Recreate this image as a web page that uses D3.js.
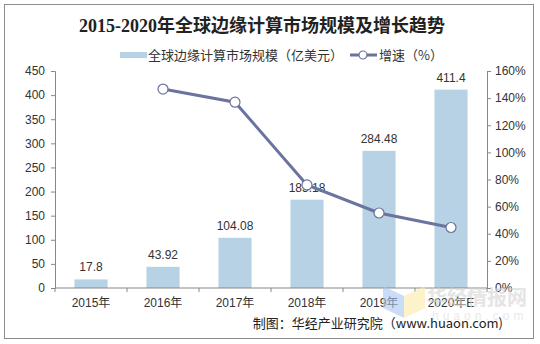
<!DOCTYPE html>
<html>
<head>
<meta charset="utf-8">
<script src="https://cdn.jsdelivr.net/npm/d3@7"></script>
<style>
  body { margin: 0; background: #fff; }
  svg text { font-family: "Liberation Sans", Arial, "Noto Sans CJK SC", sans-serif; }
</style>
</head>
<body>
<div id="chart"></div>
<script>
// data
const years = ['2015年', '2016年', '2017年', '2018年', '2019年', '2020年E']
const marketSize = [17.8, 43.92, 104.08, 183.18, 284.48, 411.4]
const growth = [null, 146.7, 137.0, 76.0, 55.3, 44.6]
const leftTicks = [0, 50, 100, 150, 200, 250, 300, 350, 400, 450]
const rightTicks = [0, 20, 40, 60, 80, 100, 120, 140, 160]

const width = 540, height = 344
const margin = { top: 71, right: 53, bottom: 56, left: 55 }
const innerW = width - margin.left - margin.right
const innerH = height - margin.top - margin.bottom

const barColor = '#b7d2e4'
const lineColor = '#6b739f'
const textColor = '#333'

const svg = d3.select('#chart').append('svg')
  .attr('width', width)
  .attr('height', height)

// outer frame
svg.append('rect')
  .attr('x', 4.5).attr('y', 4.5)
  .attr('width', 529).attr('height', 334)
  .attr('fill', 'none')
  .attr('stroke', '#8c8c8c')

// title
svg.append('text')
  .attr('x', 262).attr('y', 32)
  .attr('text-anchor', 'middle')
  .attr('font-size', 18)
  .attr('font-weight', 'bold')
  .style('font-family', '"Liberation Serif", "Noto Sans CJK SC", serif')
  .attr('fill', '#222')
  .text('2015-2020年全球边缘计算市场规模及增长趋势')

// legend
const legend = svg.append('g').attr('transform', 'translate(0, 55)')
legend.append('rect')
  .attr('x', 120).attr('y', -3).attr('width', 27).attr('height', 6)
  .attr('fill', barColor)
legend.append('text')
  .attr('x', 148).attr('y', 0).attr('dy', '0.35em')
  .attr('font-size', 13).attr('fill', textColor)
  .style('font-family', '"Noto Sans CJK SC", sans-serif')
  .text('全球边缘计算市场规模（亿美元）')
legend.append('line')
  .attr('x1', 350).attr('x2', 377).attr('y1', 0).attr('y2', 0)
  .attr('stroke', lineColor).attr('stroke-width', 3)
legend.append('circle')
  .attr('cx', 363).attr('cy', 0).attr('r', 4)
  .attr('fill', '#fff').attr('stroke', lineColor).attr('stroke-width', 1.2)
legend.append('text')
  .attr('x', 379).attr('y', 0).attr('dy', '0.35em')
  .attr('font-size', 13).attr('fill', textColor)
  .style('font-family', '"Noto Sans CJK SC", sans-serif')
  .text('增速（%）')

const g = svg.append('g')
  .attr('transform', `translate(${margin.left}, ${margin.top})`)

// scales
const x = d3.scaleBand().domain(years).range([0, innerW]).paddingInner(0.54).paddingOuter(0.27)
const xEdge = d3.scaleLinear().domain([0, years.length]).range([0, innerW])
const yLeft = d3.scaleLinear().domain([0, 450]).range([innerH, 0])
const yRight = d3.scaleLinear().domain([0, 160]).range([innerH, 0])

// bars
g.selectAll('.bar')
  .data(marketSize).enter()
  .append('rect')
  .attr('class', 'bar')
  .attr('x', (d, i) => x(years[i]))
  .attr('y', d => yLeft(d))
  .attr('width', x.bandwidth())
  .attr('height', d => innerH - yLeft(d))
  .attr('fill', barColor)

// bar labels
g.selectAll('.bar-label')
  .data(marketSize).enter()
  .append('text')
  .attr('class', 'bar-label')
  .attr('x', (d, i) => x(years[i]) + x.bandwidth() / 2)
  .attr('y', d => yLeft(d) - 8)
  .attr('text-anchor', 'middle')
  .attr('font-size', 12)
  .attr('fill', textColor)
  .text(d => d)

// watermark, faint, sits under axis labels
const wm = svg.append('g').attr('opacity', 0.6)
wm.append('path')
  .attr('d', 'M383,286 L404,296 L404,318 L383,308 Z')
  .attr('fill', '#a9c6f2')
wm.append('path')
  .attr('d', 'M404,296 L425,286 L425,308 L404,318 Z')
  .attr('fill', '#fdeaa6')
wm.append('text')
  .attr('x', 427).attr('y', 305)
  .attr('font-size', 20).attr('font-weight', 'bold')
  .attr('fill', '#d4d4d4')
  .style('font-family', '"Noto Sans CJK SC", sans-serif')
  .text('华经情报网')
wm.append('text')
  .attr('x', 432).attr('y', 320)
  .attr('font-size', 12)
  .attr('letter-spacing', 4)
  .attr('fill', '#dcdcdc')
  .text('huaon.com')

// left axis
const leftAxis = g.append('g')
  .call(d3.axisLeft(yLeft).tickValues(leftTicks).tickSize(4).tickPadding(6))
leftAxis.selectAll('text').attr('font-size', 12).attr('fill', textColor)
leftAxis.selectAll('line, path').attr('stroke', '#888')

// right axis
const rightAxis = g.append('g')
  .attr('transform', `translate(${innerW}, 0)`)
  .call(d3.axisRight(yRight).tickValues(rightTicks).tickSize(4).tickPadding(4).tickFormat(d => d + '%'))
rightAxis.selectAll('text').attr('font-size', 12).attr('fill', textColor)
rightAxis.selectAll('line, path').attr('stroke', '#888')

// x axis
const xAxisG = g.append('g').attr('transform', `translate(0, ${innerH})`)
xAxisG.append('line')
  .attr('x1', 0).attr('x2', innerW)
  .attr('stroke', '#888')
xAxisG.selectAll('.xtick')
  .data(d3.range(years.length + 1)).enter()
  .append('line')
  .attr('x1', d => xEdge(d)).attr('x2', d => xEdge(d))
  .attr('y1', 0).attr('y2', 4)
  .attr('stroke', '#888')
xAxisG.selectAll('.xlabel')
  .data(years).enter()
  .append('text')
  .attr('x', d => x(d) + x.bandwidth() / 2)
  .attr('y', 19)
  .attr('text-anchor', 'middle')
  .attr('font-size', 12)
  .attr('fill', textColor)
  .style('font-family', '"Liberation Sans", "Noto Sans CJK SC", sans-serif')
  .text(d => d)

// growth line
const growthPts = growth.map((v, i) => ({ year: years[i], v })).filter(d => d.v != null)
const line = d3.line()
  .x(d => x(d.year) + x.bandwidth() / 2)
  .y(d => yRight(d.v))
g.append('path')
  .datum(growthPts)
  .attr('d', line)
  .attr('fill', 'none')
  .attr('stroke', lineColor)
  .attr('stroke-width', 3)
g.selectAll('.pt')
  .data(growthPts).enter()
  .append('circle')
  .attr('cx', d => x(d.year) + x.bandwidth() / 2)
  .attr('cy', d => yRight(d.v))
  .attr('r', 5)
  .attr('fill', '#fff')
  .attr('stroke', lineColor)
  .attr('stroke-width', 1.2)

// source
svg.append('text')
  .attr('x', 503).attr('y', 328)
  .attr('text-anchor', 'end')
  .attr('font-size', 13)
  .attr('fill', '#222')
  .style('font-family', '"Noto Sans CJK SC", sans-serif')
  .text('制图：华经产业研究院（www.huaon.com)')
</script>
</body>
</html>
